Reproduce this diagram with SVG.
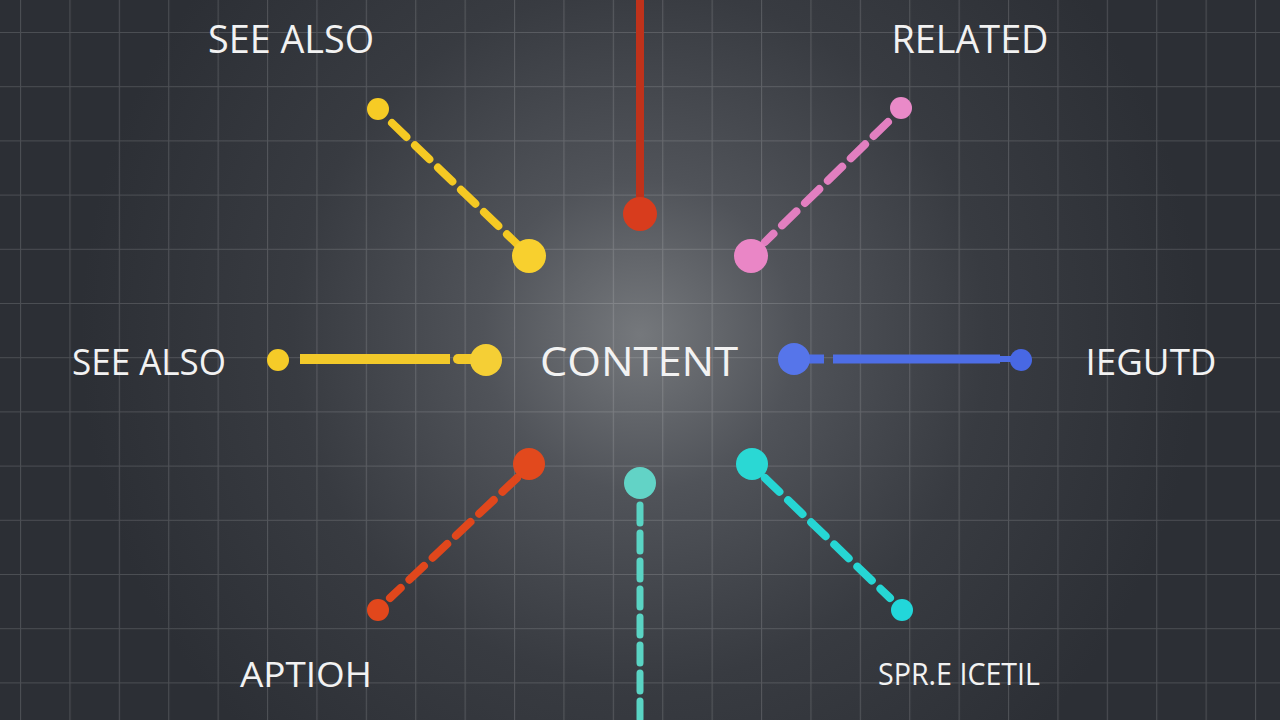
<svg xmlns="http://www.w3.org/2000/svg" width="1280" height="720" viewBox="0 0 1280 720">
<defs>
<radialGradient id="glow" cx="640" cy="335" r="560" gradientUnits="userSpaceOnUse">
<stop offset="0" stop-color="#75787c"/>
<stop offset="0.28" stop-color="#505359"/>
<stop offset="0.62" stop-color="#383b41"/>
<stop offset="1" stop-color="#2c2f35"/>
</radialGradient>
<pattern id="grid" x="20" y="32" width="49.4" height="54.2" patternUnits="userSpaceOnUse">
<path d="M0 0 V54.2 M0 0 H49.4" fill="none" stroke="#ffffff" stroke-opacity="0.15" stroke-width="2.2"/>
</pattern>
</defs>
<style>
.lbl{font-family:"Open Sans","Liberation Sans",sans-serif;fill:#f2f2f2;text-anchor:middle}
.dash{fill:none;stroke-linecap:round}
</style>
<rect width="1280" height="720" fill="url(#glow)"/>
<rect width="1280" height="720" fill="url(#grid)"/>

<g id="connectors">
<line x1="640" y1="0" x2="640" y2="200" stroke="#bf321b" stroke-width="8"/>
<line class="dash" x1="392" y1="123" x2="517" y2="244" stroke="#f5c923" stroke-width="8" stroke-dasharray="20 12"/>
<line class="dash" x1="888" y1="122" x2="765" y2="242" stroke="#e27fc0" stroke-width="8" stroke-dasharray="20 12"/>
<line x1="300" y1="359" x2="450" y2="359" stroke="#f2c92a" stroke-width="10"/>
<line x1="458" y1="359" x2="474" y2="359" stroke="#f2c92a" stroke-width="10" stroke-linecap="round"/>
<line x1="808" y1="359" x2="824" y2="359" stroke="#4e6ee6" stroke-width="9"/>
<line x1="833" y1="359" x2="1000" y2="359" stroke="#4e6ee6" stroke-width="9"/>
<line x1="1000" y1="359" x2="1012" y2="359" stroke="#4e6ee6" stroke-width="6"/>
<line class="dash" x1="517" y1="478" x2="390" y2="598" stroke="#e0471c" stroke-width="8" stroke-dasharray="20 12"/>
<line class="dash" x1="640" y1="505" x2="640" y2="720" stroke="#5ad4c4" stroke-width="7" stroke-dasharray="18 10"/>
<line class="dash" x1="765" y1="478" x2="890" y2="598" stroke="#26d6d4" stroke-width="8" stroke-dasharray="20 12"/>
</g>

<g id="node-top"><circle cx="640" cy="214" r="17" fill="#d83c1d"/></g>
<g id="node-yellow-tl">
<circle cx="378" cy="109" r="11" fill="#f6cb25"/>
<circle cx="529" cy="256" r="17" fill="#f8d02e"/>
</g>
<g id="node-pink-tr">
<circle cx="901" cy="108" r="11" fill="#e98ac8"/>
<circle cx="751" cy="256" r="17" fill="#ea86c6"/>
</g>
<g id="node-yellow-l">
<circle cx="278" cy="360" r="11" fill="#f5cb28"/>
<circle cx="486" cy="360" r="16" fill="#f5cf35"/>
</g>
<g id="node-blue-r">
<circle cx="794" cy="359" r="16" fill="#5675ea"/>
<circle cx="1021" cy="360" r="11" fill="#4868e4"/>
</g>
<g id="node-orange-bl">
<circle cx="529" cy="464" r="16" fill="#e2491d"/>
<circle cx="378" cy="610" r="11" fill="#e2471c"/>
</g>
<g id="node-teal-b"><circle cx="640" cy="483" r="16" fill="#62d3c6"/></g>
<g id="node-cyan-br">
<circle cx="752" cy="464" r="16" fill="#2ad8d4"/>
<circle cx="902" cy="610" r="11" fill="#22d7da"/>
</g>

<g id="labels">
<text class="lbl" x="291" y="53" font-size="39" textLength="166" lengthAdjust="spacingAndGlyphs">SEE ALSO</text>
<text class="lbl" x="970" y="53" font-size="39" textLength="157" lengthAdjust="spacingAndGlyphs">RELATED</text>
<text class="lbl" x="149" y="375" font-size="37" textLength="154" lengthAdjust="spacingAndGlyphs">SEE ALSO</text>
<text class="lbl" x="1151" y="375" font-size="37" textLength="131" lengthAdjust="spacingAndGlyphs">IEGUTD</text>
<text class="lbl" x="639" y="376" font-size="40" textLength="198" lengthAdjust="spacingAndGlyphs">CONTENT</text>
<text class="lbl" x="306" y="687" font-size="35" textLength="132" lengthAdjust="spacingAndGlyphs">APTIOH</text>
<text class="lbl" x="959" y="685" font-size="31" textLength="162" lengthAdjust="spacingAndGlyphs">SPR.E ICETIL</text>
</g>
</svg>
